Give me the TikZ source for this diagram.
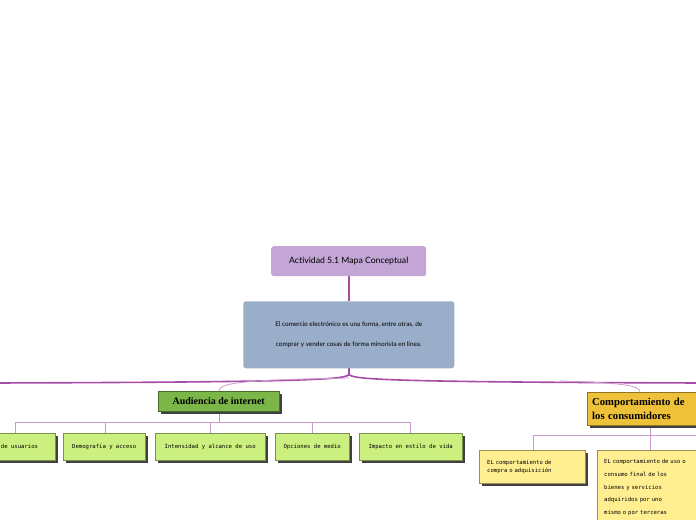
\documentclass[tikz,border=0pt]{standalone}
\usepackage{fontspec}
\setmainfont{Lato}
\newfontfamily\hdr{Liberation Serif}
\newfontfamily\mono{DejaVu Sans Mono}
\begin{document}
\begin{tikzpicture}[x=0.75pt,y=-0.75pt,
 box/.style={draw=#1!60!black,line width=0.3pt,inner sep=0pt,anchor=north west},
 shd/.style={fill=black!70},
 main/.style={draw=violet!70!white,line width=1.2pt},
 sub/.style={draw=violet!40!white,line width=0.6pt},
 ctext/.style={font=\mono\fontsize{4.2}{6}\selectfont}]
\useasboundingbox (0,0) rectangle (696,520);
\definecolor{ttl}{HTML}{C3A6D6}
\definecolor{mn}{HTML}{9AAEC9}
\definecolor{grn}{HTML}{7AB648}
\definecolor{lgrn}{HTML}{CCF07F}
\definecolor{gold}{HTML}{EDC13A}
\definecolor{lyel}{HTML}{FFEF91}
% connectors
\coordinate (L) at (-5,383);
\coordinate (R) at (700,383);
\draw[main] (349,276) -- (349,301);
\draw[main] (349,368) -- (349,374) .. controls (349,380) and (300,382) .. (L);
\draw[main] (349,374) .. controls (349,380) and (400,382) .. (R);
\draw[sub] (349,378) .. controls (260,380) and (219,381) .. (219,391);
\draw[sub] (560,381) .. controls (620,383) and (640,385) .. (640,392);
\draw[sub] (219,411) -- (219,422);
\draw[sub] (15,422) -- (410,422);
\foreach \x in {15,105,210,312,410}{\draw[sub] (\x,422) -- (\x,433);}
\draw[sub] (650,425) -- (650,450);
\draw[sub] (533,435) -- (696,435);
\draw[sub] (533,435) -- (533,450);
% title
\node[box=ttl,fill=ttl,draw=none,rounded corners=2pt,minimum width=155*0.75pt,minimum height=30*0.75pt,font=\fontsize{6.5}{8}\selectfont] (t) at (271,246) {Actividad 5.1 Mapa Conceptual};
\node[fill=mn,rounded corners=2pt,minimum width=211*0.75pt,minimum height=67*0.75pt,anchor=north west,align=center,font=\fontsize{4.8}{15.5}\selectfont] (m) at (243,301) {El comercio electrónico es una forma, entre otras, de\\comprar y vender cosas de forma minorista en línea.};
% Audiencia
\fill[black!75] (161,394) rectangle (282,414);
\node[box=grn,fill=grn,minimum width=121*0.75pt,minimum height=20*0.75pt,font=\hdr\bfseries\fontsize{7.5}{9}\selectfont] (a) at (158,391) {Audiencia de internet};
\foreach \n/\x/\w/\t in {c1/-40/95/Número de usuarios,c2/63/82/Demografía y acceso,c3/155/110/Intensidad y alcance de uso,c4/275/74/Opciones de medio,c5/359/103/Impacto en estilo de vida}{
 \fill[black!75] (\x+3,436) rectangle (\x+\w+3,463);
 \node[box=lgrn,fill=lgrn,minimum width=\w*0.75pt,minimum height=27*0.75pt,ctext] (\n) at (\x,433) {\t};}
% Comportamiento
\fill[black!75] (590,395) rectangle (700,428);
\node[box=gold,fill=gold,minimum width=115*0.75pt,minimum height=33*0.75pt,align=left,inner xsep=3pt,font=\hdr\bfseries\fontsize{8}{10}\selectfont,text width=105*0.75pt] (b) at (587,392) {Comportamiento de\\los consumidores};
\fill[black!75] (482,453) rectangle (588,486);
\node[box=lyel,fill=lyel,minimum width=106*0.75pt,minimum height=33*0.75pt,align=left,inner xsep=5pt,text width=90*0.75pt,ctext] (y1) at (479,450) {EL comportamiento de\\compra o adquisición};
\fill[black!75] (600,453) rectangle (700,525);
\node[box=lyel,fill=lyel,minimum width=110*0.75pt,minimum height=75*0.75pt,align=left,inner xsep=5pt,inner ysep=5pt,text width=96*0.75pt,font=\mono\fontsize{4.2}{9.5}\selectfont] (y2) at (597,450) {EL comportamiento de uso o\\consumo final de los\\bienes y servicios\\adquiridos por uno\\mismo o por terceras};
\end{tikzpicture}
\end{document}
